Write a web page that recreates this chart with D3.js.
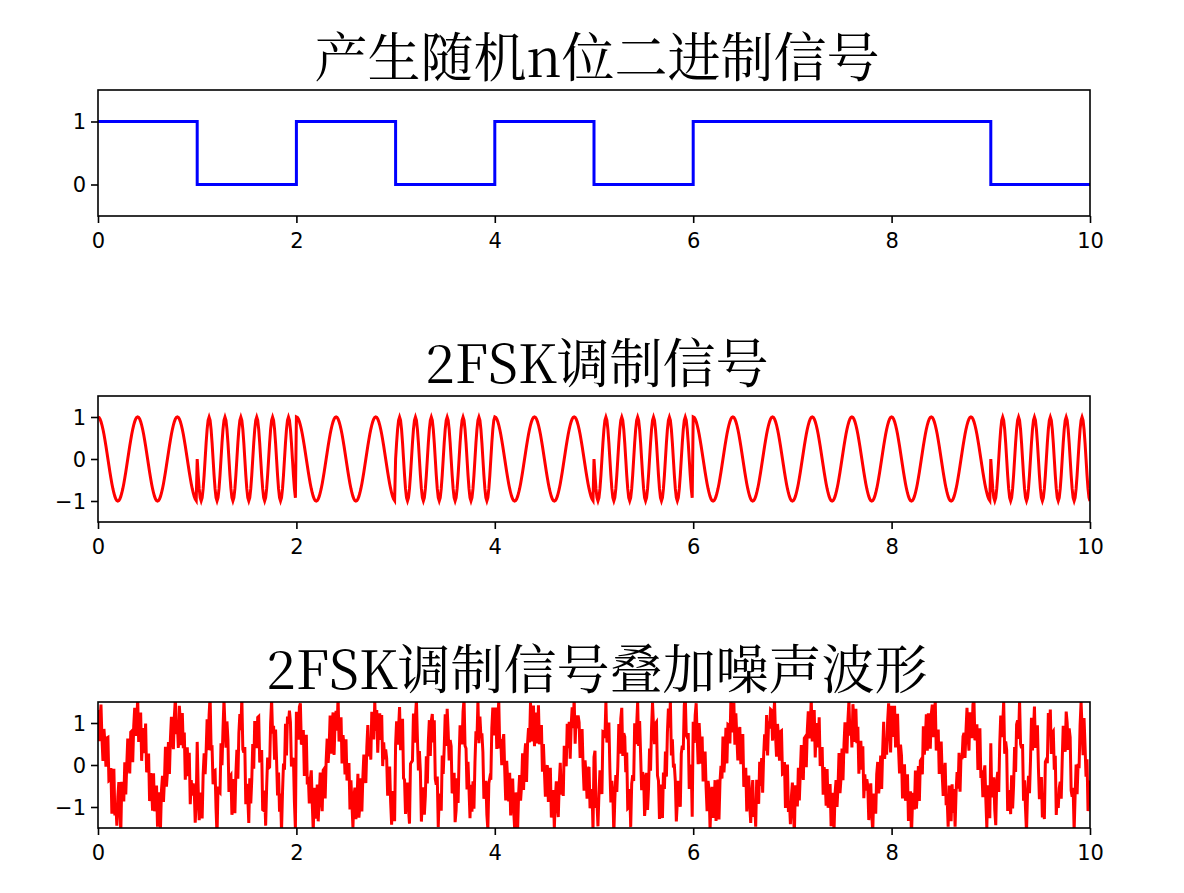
<!DOCTYPE html>
<html><head><meta charset="utf-8">
<script src="https://cdn.jsdelivr.net/npm/d3@7"></script>
<style>body{margin:0;background:#fff}</style></head>
<body><svg id="c" width="1184" height="893"></svg>
<script>
const bits = [1,0,1,0,1,0,1,1,1,0];
const freqOne = 2.5, freqZero = 6.25;
const titles = ["产生随机n位二进制信号","2FSK调制信号","2FSK调制信号叠加噪声波形"];
const xTicks = [0,2,4,6,8,10];
const yTicks1 = [0,1], yTicks2 = [-1,0,1];
const noise = [0.31,-0.42,0.12,0.55,-0.18,-0.61,0.27,0.08,-0.35,0.49,0.66,-0.22,-0.05,0.38,-0.57,0.19,0.72,-0.31,0.03,-0.46,
0.24,0.58,-0.12,-0.69,0.41,0.07,-0.28,0.52,-0.39,0.15,0.63,-0.08,-0.51,0.33,0.22,-0.64,0.11,0.47,-0.26,-0.03,
0.59,-0.44,0.18,0.36,-0.71,0.05,0.29,-0.17,0.68,-0.33,-0.09,0.43,-0.55,0.26,0.14,-0.38,0.61,-0.21,0.02,0.5,
-0.47,0.34,-0.13,-0.6,0.21,0.45,-0.29,0.09,0.74,-0.36,-0.16,0.39,-0.52,0.17,0.56,-0.07,-0.43,0.28,0.64,-0.25,
0.01,-0.58,0.46,0.13,-0.34,0.53,-0.19,0.32,-0.66,0.06,0.42,-0.11,0.6,-0.48,0.23,-0.02,0.37];
const panels = [{top:90},{top:396},{top:702}], L=98, R=1090, H=126;
const svg = d3.select("#c");
const x = d3.scaleLinear().domain([0,10]).range([L,R]);
const ts = d3.range(0,10.0001,0.01);
function fsk(t){const k=Math.min(9,Math.floor(t));return bits[k]?Math.cos(2*Math.PI*freqOne*t):Math.cos(2*Math.PI*freqZero*t);}
const sq=[];bits.forEach((b,i)=>{sq.push([i,b]);sq.push([i+1,b]);});
const series=[
 {data:sq,dom:[-0.5,1.5],ticks:yTicks1,color:"#0000ff"},
 {data:ts.map(t=>[t,fsk(t)]),dom:[-1.5,1.5],ticks:yTicks2,color:"#ff0000"},
 {data:ts.map((t,i)=>[t,fsk(t)+noise[i%noise.length]]),dom:[-1.5,1.5],ticks:yTicks2,color:"#ff0000"}];
series.forEach((s,p)=>{
 const top=panels[p].top;
 const y=d3.scaleLinear().domain(s.dom).range([top+H,top]);
 const g=svg.append("g");
 g.append("clipPath").attr("id","cp"+p).append("rect").attr("x",L).attr("y",top).attr("width",R-L).attr("height",H);
 g.append("path").datum(s.data).attr("clip-path","url(#cp"+p+")").attr("fill","none").attr("stroke",s.color).attr("stroke-width",3)
  .attr("d",d3.line().x(d=>x(d[0])).y(d=>y(d[1])));
 g.append("rect").attr("x",L).attr("y",top).attr("width",R-L).attr("height",H).attr("fill","none").attr("stroke","#000").attr("stroke-width",1.6);
 const ax=g.append("g").attr("transform",`translate(0,${top+H})`).call(d3.axisBottom(x).tickValues(xTicks).tickFormat(d3.format("d")).tickSize(7));
 const ay=g.append("g").attr("transform",`translate(${L},0)`).call(d3.axisLeft(y).tickValues(s.ticks).tickFormat(d=>d<0?"−"+(-d):d).tickSize(7));
 [ax,ay].forEach(a=>{a.select(".domain").remove();a.selectAll("line").attr("stroke-width",1.6);a.selectAll("text").attr("font-family","DejaVu Sans").attr("font-size",21).attr("fill","#000");});
 ax.selectAll("text").attr("dy","1.05em");
 ay.selectAll("text").attr("dy","0.35em").attr("x",-12);
 g.append("text").attr("x",(L+R)/2+3).attr("y",top-13).attr("text-anchor","middle").attr("font-family","Noto Serif CJK SC, Noto Sans CJK SC").attr("font-size",53).text(titles[p]);
});
</script></body></html>
